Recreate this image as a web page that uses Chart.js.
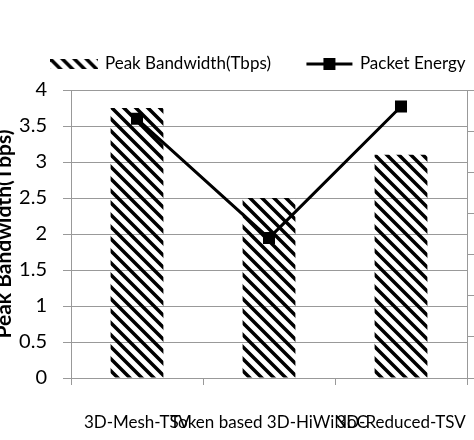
<!DOCTYPE html>
<html>
<head>
<meta charset="utf-8">
<script src="https://cdn.jsdelivr.net/npm/chart.js@4/dist/chart.umd.min.js"></script>
<style>
	html, body { margin: 0; padding: 0; overflow: hidden; background: #fff; }
	body { width: 474px; height: 440px; position: relative; }
	#chart { position: absolute; left: -8px; top: 0; }
</style>
</head>
<body>
<canvas id="chart" width="534" height="440"></canvas>
<script>
'use strict'

const categories = ['3D-Mesh-TSV', 'Token based 3D-HiWiNoC', '3D-Reduced-TSV']
const peakBandwidth = [3.75, 2.5, 3.1]
const packetEnergy = [6.3, 3.4, 6.6]
const legendLabels = ['Peak Bandwidth(Tbps)', 'Packet Energy']
const axisTitle = 'Peak Bandwidth(Tbps)'

const gridColor = '#999'
const fontFamily = 'Lato, "Open Sans", sans-serif'

function makeStripes(ctx, size) {
	ctx.strokeStyle = '#000'
	ctx.lineWidth = 3.5
	ctx.beginPath()
	for (let k = -2; k <= 2; k++) {
		ctx.moveTo(-2 + k * size, -2)
		ctx.lineTo(size + 2 + k * size, size + 2)
	}
	ctx.stroke()
}

function stripePattern() {
	const tile = document.createElement('canvas')
	tile.width = 12
	tile.height = 12
	makeStripes(tile.getContext('2d'), 12)
	return document.createElement('canvas').getContext('2d').createPattern(tile, 'repeat')
}

function barIcon() {
	const c = document.createElement('canvas')
	c.width = 48
	c.height = 10
	const ctx = c.getContext('2d')
	ctx.fillStyle = stripePattern()
	ctx.fillRect(0, 0, 48, 10)
	return c
}

function lineIcon() {
	const c = document.createElement('canvas')
	c.width = 48
	c.height = 14
	const ctx = c.getContext('2d')
	ctx.fillStyle = '#000'
	ctx.fillRect(1, 5.5, 46, 3)
	ctx.fillRect(18, 1, 12, 12)
	return c
}

const icons = [barIcon(), lineIcon()]

new Chart(document.getElementById('chart'), {
	type: 'bar',
	data: {
		labels: categories,
		datasets: [
			{
				type: 'bar',
				label: legendLabels[0],
				data: peakBandwidth,
				backgroundColor: stripePattern(),
				borderWidth: 0,
				barPercentage: 0.4,
				categoryPercentage: 1,
				yAxisID: 'y',
				order: 1,
			},
			{
				type: 'line',
				label: legendLabels[1],
				data: packetEnergy,
				borderColor: '#000',
				borderWidth: 3,
				pointStyle: 'rect',
				pointRadius: 8.5,
				pointBackgroundColor: '#000',
				pointBorderColor: '#000',
				pointBorderWidth: 0,
				tension: 0,
				yAxisID: 'y1',
				order: 0,
			},
		],
	},
	options: {
		responsive: false,
		animation: false,
		layout: { padding: { top: 19, left: 0, right: 0, bottom: 0 } },
		plugins: {
			tooltip: { enabled: false },
			legend: {
				position: 'top',
				labels: {
					usePointStyle: true,
					pointStyleWidth: 44,
					padding: 36.5,
					color: '#000',
					font: { family: fontFamily, size: 17 },
					generateLabels: () =>
						legendLabels.map((text, i) => ({
							text,
							pointStyle: icons[i],
							fillStyle: '#000',
							strokeStyle: '#000',
							lineWidth: 0,
							hidden: false,
							datasetIndex: i,
						})),
				},
			},
		},
		scales: {
			x: {
				position: 'bottom',
				offset: true,
				grid: {
					display: true,
					drawOnChartArea: false,
					drawTicks: true,
					tickLength: 7,
					color: gridColor,
					offset: true,
				},
				border: { display: true, color: gridColor },
				ticks: {
					autoSkip: false,
					maxRotation: 0,
					minRotation: 0,
					padding: 27,
					color: '#000',
					font: { family: fontFamily, size: 17 },
				},
				afterFit: scale => { scale.height = 62 },
			},
			xTop: {
				type: 'category',
				position: 'top',
				grid: { display: false },
				border: { display: false },
				ticks: { display: false },
				afterFit: scale => { scale.height = 7.5 },
			},
			y: {
				position: 'left',
				min: 0,
				max: 4,
				ticks: {
					stepSize: 0.5,
					padding: 16,
					color: '#000',
					font: { family: fontFamily, size: 20 },
					callback: value => String(value),
				},
				grid: { color: gridColor, tickLength: 8 },
				border: { display: true, color: gridColor },
				title: {
					display: true,
					text: axisTitle,
					color: '#000',
					padding: 0,
					font: { family: fontFamily, size: 21, weight: 'bold' },
				},
				afterFit: scale => { scale.width = 79 },
			},
			y1: {
				position: 'right',
				min: 0,
				max: 7,
				ticks: {
					stepSize: 1,
					callback: () => '',
				},
				grid: { drawOnChartArea: false, color: gridColor, tickLength: 7 },
				border: { display: true, color: gridColor },
				afterFit: scale => { scale.width = 59 },
			},
		},
	},
})
</script>
</body>
</html>
